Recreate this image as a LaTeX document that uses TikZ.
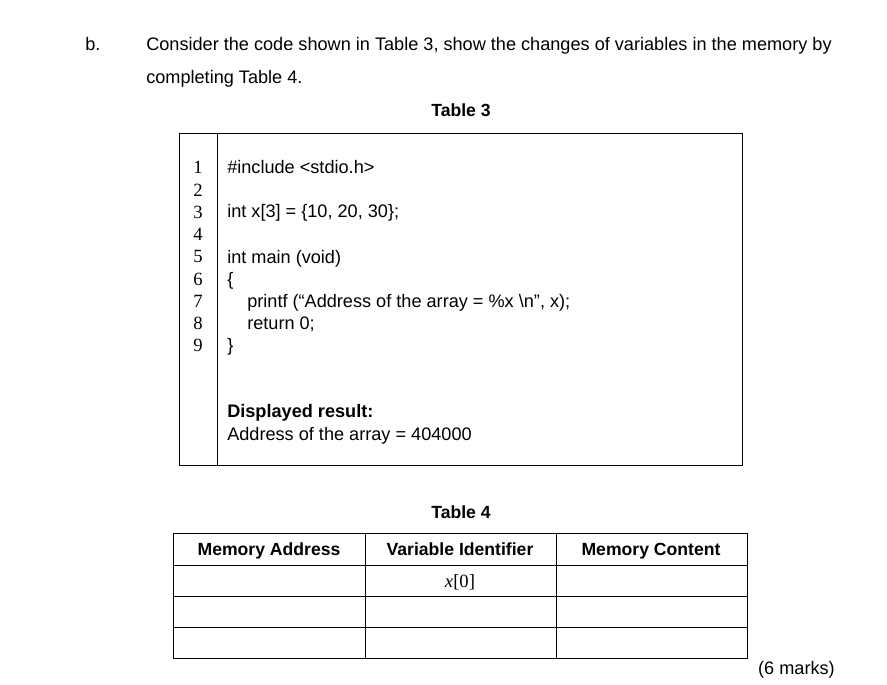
\documentclass[tikz,border=0pt]{standalone}
\usepackage{fontspec}
\setmainfont{Liberation Sans}
\newfontfamily\numfont{Liberation Serif}
\begin{document}
\begin{tikzpicture}[x=0.75pt,y=-0.75pt,
  txt/.style={anchor=base west,inner sep=0pt,font=\fontsize{13.6pt}{15pt}\selectfont},
  hd/.style={anchor=base,inner sep=0pt,font=\fontsize{13.2pt}{15pt}\selectfont\bfseries},
  ln/.style={anchor=base,inner sep=0pt,font=\numfont\fontsize{14pt}{15pt}\selectfont},
  box/.style={draw,line width=0.7pt}]
\useasboundingbox (0,0) rectangle (887,684);
\node[txt] (b) at (85,51) {b.};
\node[txt] (l1) at (146,51) {Consider the code shown in Table 3, show the changes of variables in the memory by};
\node[txt] (l2) at (146,84) {completing Table 4.};
\node[hd] (t3) at (461,117) {Table 3};
\draw[box] (179,133) rectangle (742,465);
\draw[box] (217,133) -- (217,465);
\foreach \i in {1,...,9}{\node[ln] (n\i) at (198,{174+22.2*(\i-1)}) {\i};}
\node[txt] (c1) at (227,174) {\#include <stdio.h>};
\node[txt] (c3) at (227,218) {int x[3] = \{10, 20, 30\};};
\node[txt] (c5) at (227,263) {int main (void)};
\node[txt] (c6) at (227,285) {\{};
\node[txt] (c7) at (247,307) {printf (“Address of the array = \%x \textbackslash n”, x);};
\node[txt] (c8) at (247,329) {return 0;};
\node[txt] (c9) at (227,351) {\}};
\node[txt,font=\fontsize{13.6pt}{15pt}\selectfont\bfseries] (dr) at (227,417) {Displayed result:};
\node[txt] (ad) at (227,440) {Address of the array = 404000};
\node[hd] (t4) at (461,518) {Table 4};
\draw[box] (173,533) rectangle (747,658);
\foreach \y in {565,596,627}{\draw[box] (173,\y) -- (747,\y);}
\foreach \x in {365,556}{\draw[box] (\x,533) -- (\x,658);}
\node[hd] (h1) at (269,555) {Memory Address};
\node[hd] (h2) at (460,555) {Variable Identifier};
\node[hd] (h3) at (651,555) {Memory Content};
\node[anchor=base,inner sep=0pt,font=\numfont\itshape\fontsize{14pt}{15pt}\selectfont] (x0) at (460,587) {x\textup{[0]}};
\node[txt,anchor=base east] (mk) at (835,674) {(6 marks)};
\end{tikzpicture}
\end{document}
